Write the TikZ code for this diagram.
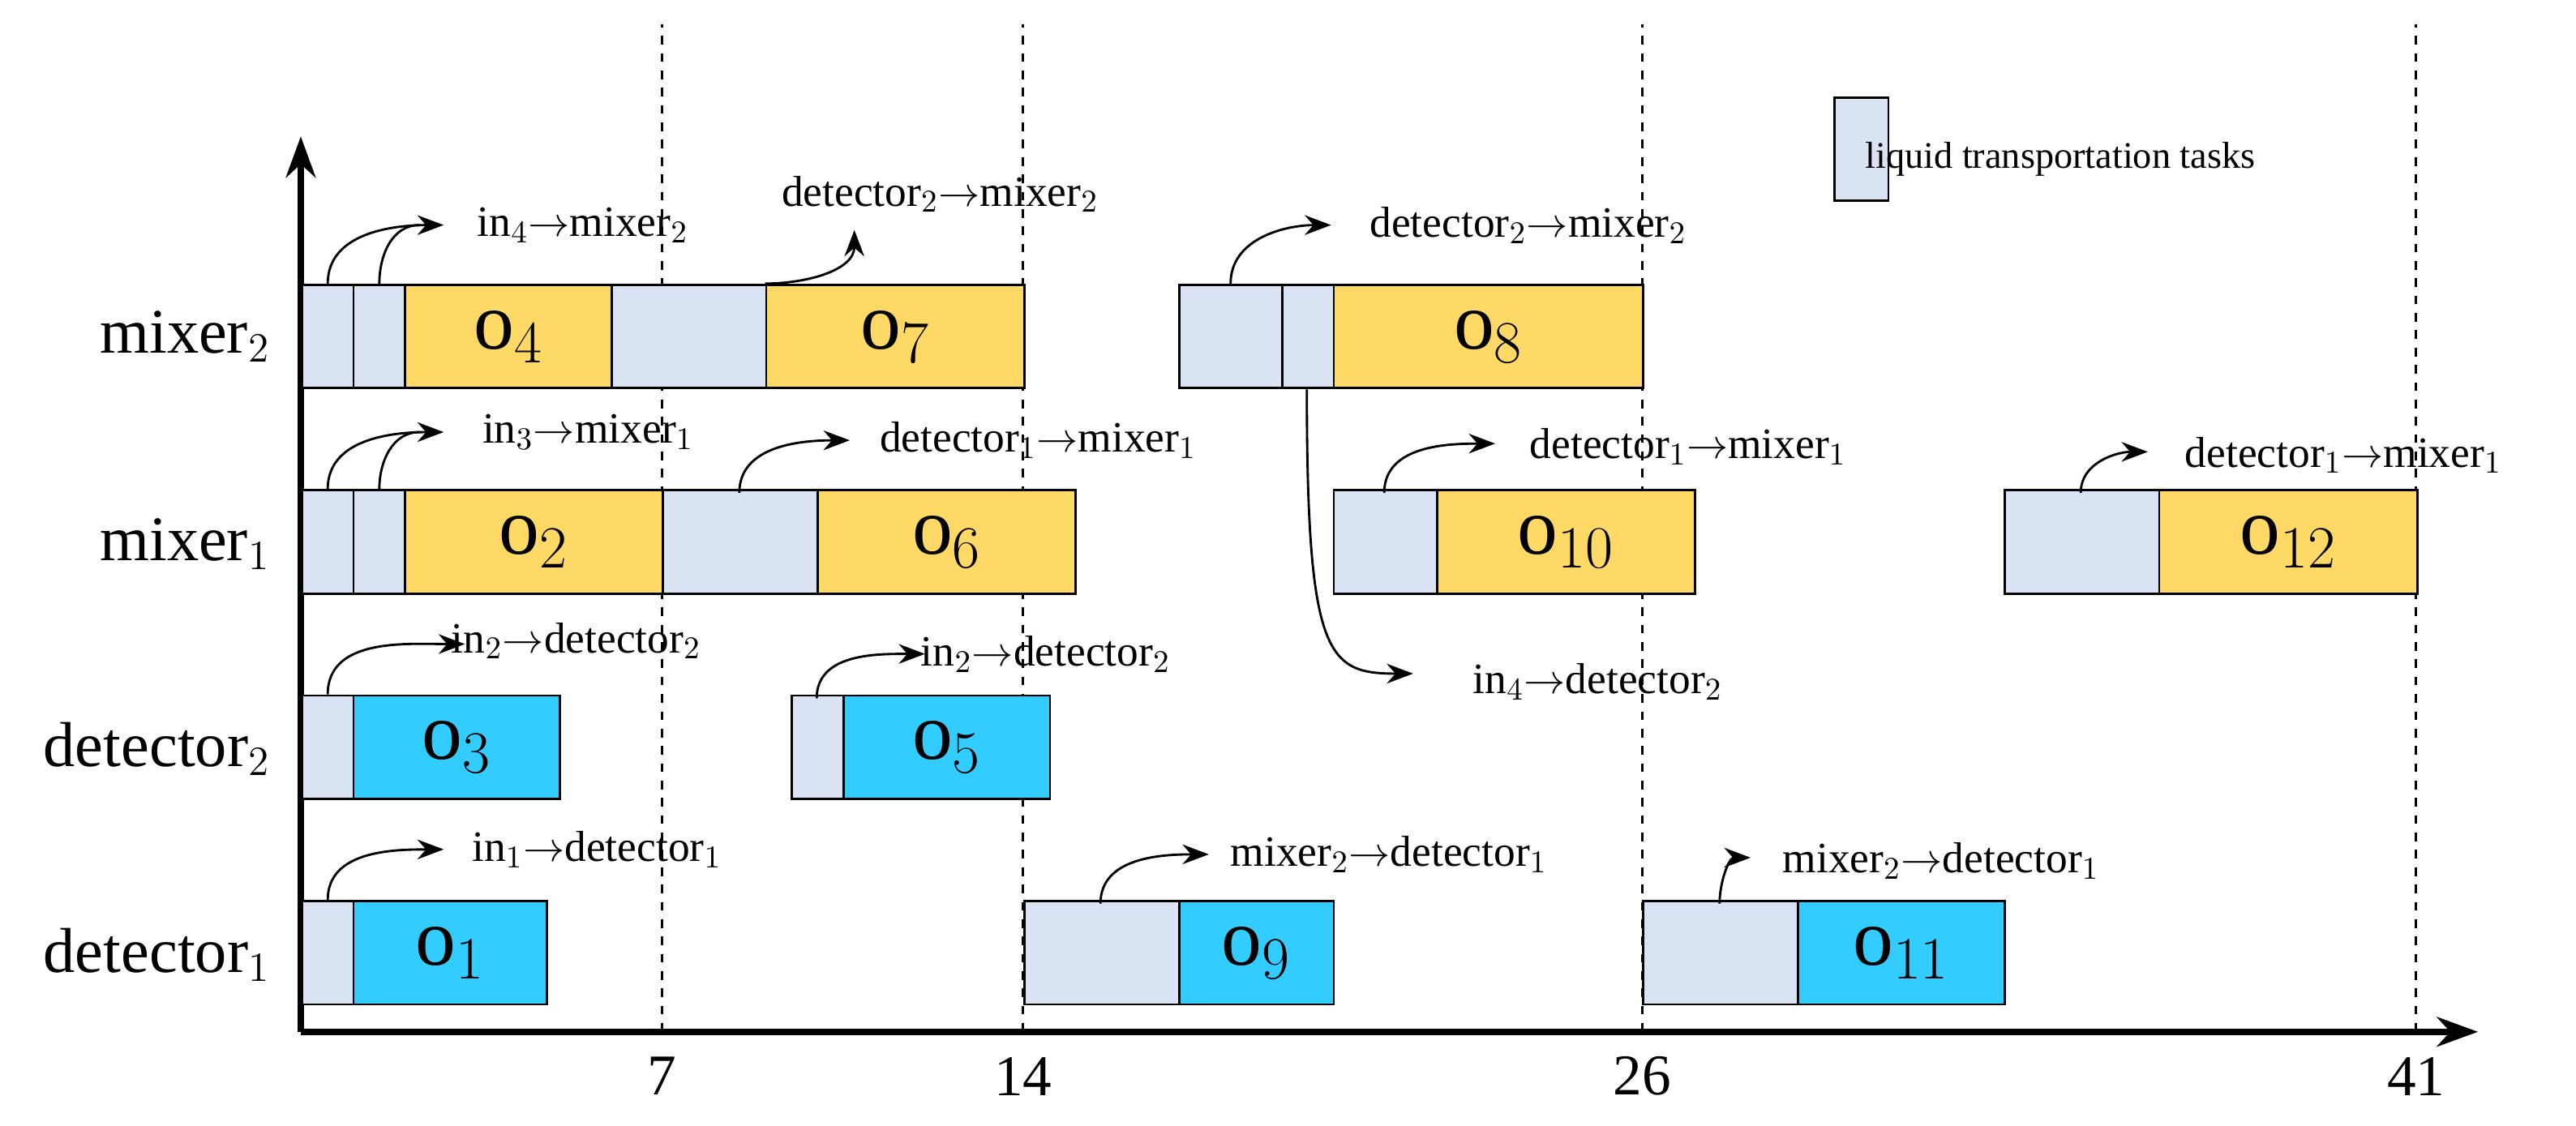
\documentclass[tikz,border=0pt]{standalone}
\usepackage{fontspec}
\setmainfont{Liberation Serif}
\usetikzlibrary{arrows.meta}
\definecolor{taskgray}{HTML}{DAE3F3}
\definecolor{opyellow}{HTML}{FFD966}
\definecolor{opcyan}{HTML}{33CCFF}
\tikzset{
  box/.style={draw=black, line width=0.8pt, anchor=south west, inner sep=0pt, minimum height=1.26cm},
  oplbl/.style={font=\fontsize{28}{30}\selectfont},
  rowlbl/.style={anchor=east, font=\fontsize{22}{24}\selectfont},
  arrlbl/.style={anchor=west, font=\fontsize{15}{18}\selectfont, inner sep=2pt},
  hook/.style={-{Stealth[length=3.2mm,width=2.4mm]}, line width=0.8pt},
}
% \task{name}{start}{end}{row}{fill}{text}
\newcommand{\task}[6]{%
  \node[box, fill=#5, minimum width={(#3-#2)*0.628cm}] (#1) at (#2,#4) {};
  \node[oplbl] at (#1.center) {#6};}
\begin{document}
\begin{tikzpicture}[x=0.628cm, y=0.02cm]
  \useasboundingbox (-5.83,-57) rectangle (44.1,628);
  % time marks
  \foreach \t in {7,14,26,41}{
    \draw[dashed, line width=0.8pt] (\t,0) -- (\t,613);
    \node[font=\fontsize{20}{22}\selectfont] (t\t) at (\t,-27) {\t};
  }
  % axes
  \coordinate (o) at (0,0);
  \coordinate (xend) at (42.2,0);
  \coordinate (yend) at (0,545);
  \draw[-{Stealth[length=5mm,width=3.6mm]}, line width=2.4pt] (o) -- (xend);
  \draw[-{Stealth[length=5mm,width=3.6mm]}, line width=2.4pt] (o) -- (yend);
  % rows
  \node[rowlbl] (r4) at (-0.4,423) {mixer$_2$};
  \node[rowlbl] (r3) at (-0.4,297) {mixer$_1$};
  \node[rowlbl] (r2) at (-0.4,172) {detector$_2$};
  \node[rowlbl] (r1) at (-0.4,47) {detector$_1$};
  % mixer2
  \task{a1}{0}{1}{391}{taskgray}{}
  \task{a2}{1}{2}{391}{taskgray}{}
  \task{o4}{2}{6}{391}{opyellow}{o$_4$}
  \task{a3}{6}{9}{391}{taskgray}{}
  \task{o7}{9}{14}{391}{opyellow}{o$_7$}
  \task{a4}{17}{19}{391}{taskgray}{}
  \task{a5}{19}{20}{391}{taskgray}{}
  \task{o8}{20}{26}{391}{opyellow}{o$_8$}
  % mixer1
  \task{b1}{0}{1}{266}{taskgray}{}
  \task{b2}{1}{2}{266}{taskgray}{}
  \task{o2}{2}{7}{266}{opyellow}{o$_2$}
  \task{b3}{7}{10}{266}{taskgray}{}
  \task{o6}{10}{15}{266}{opyellow}{o$_6$}
  \task{b4}{20}{22}{266}{taskgray}{}
  \task{o10}{22}{27}{266}{opyellow}{o$_{10}$}
  \task{b5}{33}{36}{266}{taskgray}{}
  \task{o12}{36}{41}{266}{opyellow}{o$_{12}$}
  % detector2
  \task{c1}{0}{1}{141}{taskgray}{}
  \task{o3}{1}{5}{141}{opcyan}{o$_3$}
  \task{c2}{9.5}{10.5}{141}{taskgray}{}
  \task{o5}{10.5}{14.5}{141}{opcyan}{o$_5$}
  % detector1
  \task{d1}{0}{1}{16}{taskgray}{}
  \task{o1}{1}{4.75}{16}{opcyan}{o$_1$}
  \task{d2}{14}{17}{16}{taskgray}{}
  \task{o9}{17}{20}{16}{opcyan}{o$_9$}
  \task{d3}{26}{29}{16}{taskgray}{}
  \task{o11}{29}{33}{16}{opcyan}{o$_{11}$}
  % legend
  \node[box, fill=taskgray, minimum width=0.66cm] (leg) at (29.7,505) {};
  \node[arrlbl, font=\fontsize{13}{15}\selectfont] (legtxt) at (30.2,531) {liquid transportation tasks};
  % transport arrows
  \coordinate (e1) at (2.77,491);
  \draw[hook] (a1.north) to[out=90,in=180] (e1);
  \draw[line width=0.8pt] (a2.north) to[out=90,in=180] (2.3,491);
  \node[arrlbl] (l1) at (3.3,491) {in$_4$$\rightarrow$mixer$_2$};
  \coordinate (e2) at (10.73,488);
  \draw[hook] (o7.north west) to[out=0,in=-90] (e2);
  \node[arrlbl, anchor=south west] (l2) at (9.2,495) {detector$_2$$\rightarrow$mixer$_2$};
  \coordinate (e3) at (19.97,491);
  \draw[hook] (a4.north) to[out=90,in=180] (e3);
  \node[arrlbl] (l3) at (20.6,491) {detector$_2$$\rightarrow$mixer$_2$};
  \coordinate (e4) at (21.56,218);
  \draw[hook] (19.5,391) .. controls (19.5,228) and (19.9,218) .. (e4);
  \node[arrlbl] (l4) at (22.6,213) {in$_4$$\rightarrow$detector$_2$};
  \coordinate (e5) at (2.77,365);
  \draw[hook] (b1.north) to[out=90,in=180] (e5);
  \draw[line width=0.8pt] (b2.north) to[out=90,in=180] (2.3,365);
  \node[arrlbl] (l5) at (3.4,365) {in$_3$$\rightarrow$mixer$_1$};
  \coordinate (e6) at (10.64,360);
  \draw[hook] (8.5,328) to[out=90,in=180] (e6);
  \node[arrlbl] (l6) at (11.1,360) {detector$_1$$\rightarrow$mixer$_1$};
  \coordinate (e7) at (23.15,358);
  \draw[hook] (21,328) to[out=90,in=180] (e7);
  \node[arrlbl] (l7) at (23.7,356) {detector$_1$$\rightarrow$mixer$_1$};
  \coordinate (e8) at (35.8,353);
  \draw[hook] (34.5,328) to[out=90,in=180] (e8);
  \node[arrlbl] (l8) at (36.4,351) {detector$_1$$\rightarrow$mixer$_1$};
  \coordinate (e9) at (3.18,236);
  \draw[hook] (c1.north) to[out=90,in=180] (e9);
  \node[arrlbl] (l9) at (2.8,238) {in$_2$$\rightarrow$detector$_2$};
  \coordinate (e10) at (12.1,230);
  \draw[hook] (10,203) to[out=90,in=180] (e10);
  \node[arrlbl] (l10) at (11.9,230) {in$_2$$\rightarrow$detector$_2$};
  \coordinate (e11) at (2.77,111);
  \draw[hook] (d1.north) to[out=90,in=180] (e11);
  \node[arrlbl] (l11) at (3.2,111) {in$_1$$\rightarrow$detector$_1$};
  \coordinate (e12) at (17.6,108);
  \draw[hook] (15.5,78) to[out=90,in=180] (e12);
  \node[arrlbl] (l12) at (17.9,108) {mixer$_2$$\rightarrow$detector$_1$};
  \coordinate (e13) at (28.1,106);
  \draw[hook] (27.5,78) to[out=90,in=180] (e13);
  \node[arrlbl] (l13) at (28.6,104) {mixer$_2$$\rightarrow$detector$_1$};
\end{tikzpicture}
\end{document}
